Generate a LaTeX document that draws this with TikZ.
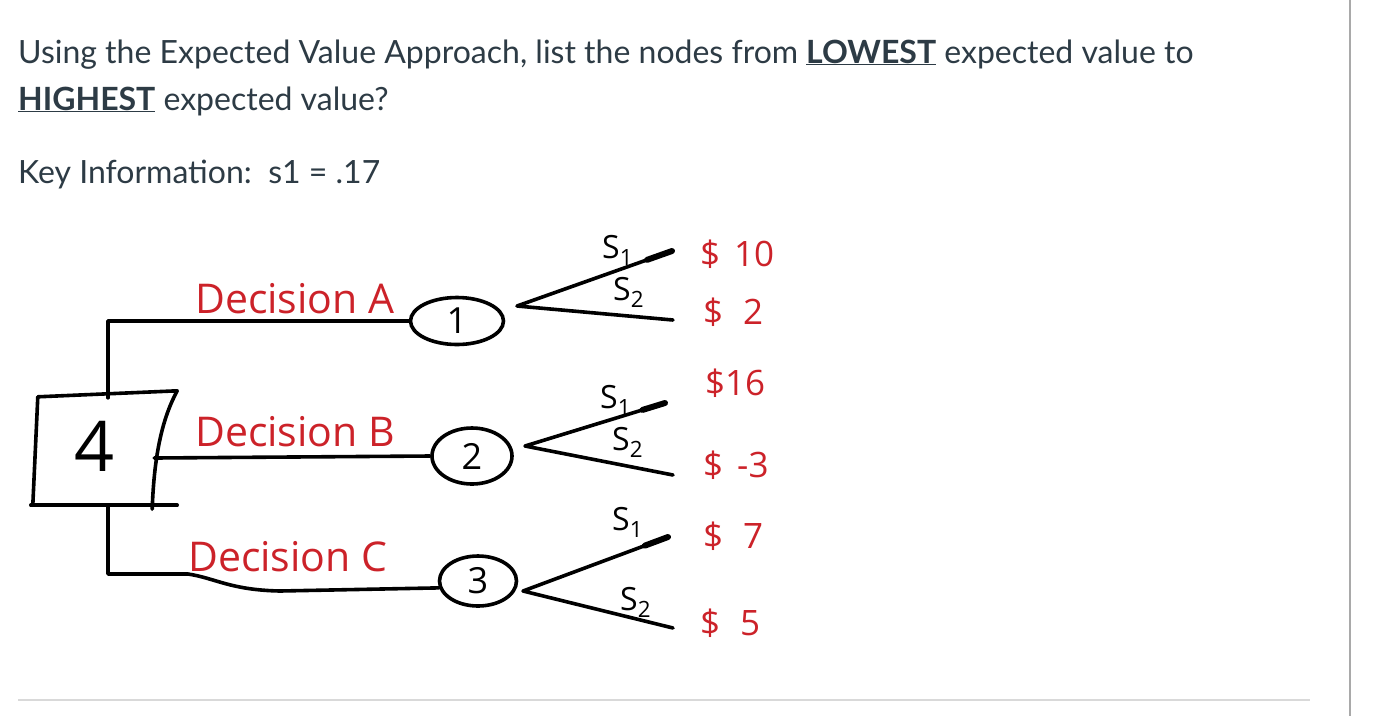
\documentclass[tikz,border=0pt]{standalone}
\usepackage{fontspec}
\setmainfont{Lato}
\newfontfamily\hand{Open Sans}
\usetikzlibrary{shapes.geometric,calc}
\definecolor{canvastext}{HTML}{2D3B45}
\definecolor{inkred}{HTML}{CC2229}
\definecolor{rulegray}{HTML}{A9A9A9}
\definecolor{seplight}{HTML}{D9D9D9}
\begin{document}
\begin{tikzpicture}[x=1pt,y=-1pt,
  body/.style={anchor=base west,inner sep=0pt,text=canvastext,font=\fontsize{32}{38}\selectfont},
  ink/.style={line width=3.6pt,line cap=round,line join=round,black},
  inkend/.style={line width=6pt,line cap=round,black},
  chance/.style={ellipse,draw,line width=3.6pt,inner sep=0pt,font=\hand\fontsize{36}{36}\selectfont},
  redlbl/.style={text=inkred,font=\hand\fontsize{41}{45}\selectfont,inner sep=0pt,anchor=base west},
  money/.style={text=inkred,font=\hand\fontsize{35}{40}\selectfont,inner sep=0pt,anchor=base west},
  slbl/.style={font=\hand\fontsize{32}{36}\selectfont,inner sep=0pt,anchor=base west},
  ]
\useasboundingbox (0,0) rectangle (1378,716);
\fill[white] (0,0) rectangle (1378,716);
% question text
\node[body] (q1) at (18,63) {Using the Expected Value Approach, list the nodes from \underline{\textbf{LOWEST}} expected value to};
\node[body] (q2) at (18,110) {\underline{\textbf{HIGHEST}} expected value?};
\node[body] (key) at (18,183) {Key Information:\ \ s1 = .17};
% page rules
\draw[rulegray,line width=2pt] (1350,0) -- (1350,716);
\draw[seplight,line width=1.5pt] (18,700) -- (1310,700);
% decision node
\node[minimum width=110pt,minimum height=108pt,inner sep=0pt,font=\hand\fontsize{70}{70}\selectfont] (d) at (95,446) {4};
\draw[ink] ([xshift=-9pt,yshift=-5pt]d.south west) -- ([xshift=27pt,yshift=-5pt]d.south east);
\draw[ink] ([xshift=-2pt,yshift=-5pt]d.north west) -- ([xshift=27pt,yshift=1pt]d.north east)
   .. controls ([xshift=13pt,yshift=-25pt]d.north east) and ([xshift=4pt,yshift=-60pt]d.north east) .. ([xshift=2pt,yshift=-9pt]d.south east);
\draw[ink] ([xshift=-2pt,yshift=-5pt]d.north west) -- ([xshift=-7pt,yshift=-5pt]d.south west);
% chance nodes
\node[chance,minimum width=93pt,minimum height=47pt] (n1) at (457,321) {1};
\node[chance,minimum width=80pt,minimum height=56pt] (n2) at (472,456) {2};
\node[chance,minimum width=77pt,minimum height=50pt] (n3) at (478,581) {3};
% decision branches
\draw[ink] ([xshift=13pt,yshift=-6pt]d.north) |- (n1.west);
\draw[ink] ([xshift=4pt,yshift=-12pt]d.east) -- (n2.west);
\coordinate (c3) at (188,574);
\draw[ink] ([xshift=13pt,yshift=-6pt]d.south) |- (c3) .. controls (215,578) and (230,590) .. (280,591) -- (n3.190);
\node[redlbl] (la) at (195,313) {Decision A};
\node[redlbl] (lb) at (195,446) {Decision B};
\node[redlbl] (lc) at (188,571) {Decision C};
% chance branches
\coordinate (v1) at (517,306); \coordinate (a1) at (672,251); \coordinate (b1) at (673,320);
\coordinate (v2) at (525,446); \coordinate (a2) at (665,403); \coordinate (b2) at (673,475);
\coordinate (v3) at (523,591); \coordinate (a3) at (668,537); \coordinate (b3) at (673,628);
\foreach \i in {1,2,3}{
  \draw[ink] (a\i) -- (v\i) -- (b\i);
  \draw[inkend] ($(v\i)!0.84!(a\i)$) -- (a\i);
}
% state labels
\node[slbl] (s11) at (602,258) {S\textsubscript{1}};
\node[slbl] (s12) at (613,300) {S\textsubscript{2}};
\node[slbl] (s21) at (600,408) {S\textsubscript{1}};
\node[slbl] (s22) at (612,450) {S\textsubscript{2}};
\node[slbl] (s31) at (612,530) {S\textsubscript{1}};
\node[slbl] (s32) at (620,610) {S\textsubscript{2}};
% payoffs
\node[money] (p11) at (700,266) {\$\hspace{14pt}10};
\node[money] (p12) at (703,324) {\$\hspace{20pt}2};
\node[money] (p21) at (705,395) {\$16};
\node[money] (p22) at (703,477) {\$\hspace{14pt}-3};
\node[money] (p31) at (703,548) {\$\hspace{20pt}7};
\node[money] (p32) at (700,635) {\$\hspace{20pt}5};
\end{tikzpicture}
\end{document}
